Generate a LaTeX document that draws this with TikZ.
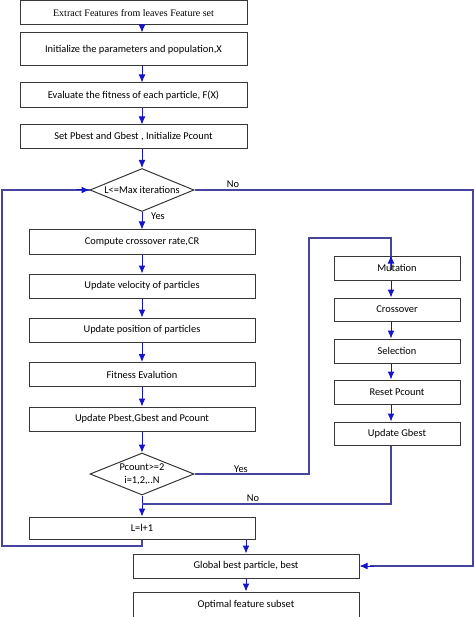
\documentclass[tikz,border=0pt]{standalone}
\usepackage{fontspec}
\setmainfont{Carlito}
\newfontfamily\serifbox{Liberation Serif}
\usetikzlibrary{arrows.meta,shapes.geometric}
\definecolor{headblue}{RGB}{20,20,205}
\definecolor{loopblue}{RGB}{70,70,160}
\definecolor{boxgray}{RGB}{55,55,55}

\begin{document}
\begin{tikzpicture}
[x=1pt,y=-1pt,>={Latex[length=8pt,width=7pt]},font=\fontsize{10.4}{12}\selectfont,
 stepbox/.style={rectangle,draw=boxgray,line width=1pt,text=black,inner sep=0pt},
 leftbox/.style={stepbox,minimum width=226pt,minimum height=24pt},
 rightbox/.style={stepbox,minimum width=126pt,minimum height=24pt},
 testbox/.style={diamond,draw=boxgray,line width=1pt,aspect=2.4,inner sep=0pt,
   minimum width=104pt,minimum height=43pt,align=center,text=black},
 flow/.style={->,draw=headblue,line width=1pt},
 loop/.style={draw=loopblue,line width=1.1pt},
 lbl/.style={text=black}]
\useasboundingbox (0,0) rectangle (474,617);
% start
\node[stepbox,minimum width=227pt,minimum height=24pt,font=\serifbox\fontsize{10}{12}\selectfont] (ex) at (133.5,13) {Extract Features from leaves Feature set};
\node[stepbox,minimum width=227pt,minimum height=33pt] (ini) at (133.5,49.5) {Initialize the parameters and population,X};
\node[stepbox,minimum width=227pt,minimum height=25pt] (ev) at (133.5,95.5) {Evaluate the fitness of each particle, F(X)};
\node[stepbox,minimum width=227pt,minimum height=24pt] (set) at (133.5,137) {Set Pbest and Gbest , Initialize Pcount};
\node[testbox] (it) at (142,190) {L<=Max iterations};
% pso part
\node[leftbox] (cr) at (142,242) {Compute crossover rate,CR};
\node[leftbox] (vel) at (142,286) {Update velocity of particles};
\node[leftbox] (pos) at (142,330) {Update position of particles};
\node[leftbox] (fit) at (142,374.5) {Fitness Evalution};
\node[leftbox] (upd) at (142,419) {Update Pbest,Gbest and Pcount};
\node[testbox,minimum height=42pt] (pc) at (142,474) {Pcount>=2\\[1pt]i=1,2,..N};
\node[leftbox,minimum height=22pt] (inc) at (142,528) {L=l+1};
% ga part
\node[rightbox] (mut) at (397,268) {Mutation};
\node[rightbox,minimum height=23pt] (cro) at (397,309.5) {Crossover};
\node[rightbox] (sel) at (397,351) {Selection};
\node[rightbox] (rst) at (397,392) {Reset Pcount};
\node[rightbox,minimum height=23pt] (ugb) at (397,433.5) {Update Gbest};
% end
\node[stepbox,minimum width=226pt,minimum height=24pt] (gb) at (246,566) {Global best particle, best};
\node[stepbox,minimum width=226pt,minimum height=25pt] (opt) at (246,604.5) {Optimal feature subset};

\coordinate (lpL) at (2,546);
\coordinate (noR) at (473,566);
\coordinate (yesT) at (309,238);
\coordinate (noB) at (142,504);
\coordinate (gx) at (391,0);

\draw[flow] (ex.south -| it.north) -- (ini.north -| it.north);
\draw[flow] (ini.south -| it.north) -- (ev.north -| it.north);
\draw[flow] (ev.south -| it.north) -- (set.north -| it.north);
\draw[flow] (set.south -| it.north) -- (it.north);
\draw[flow] (it.south) -- (cr.north);
\draw[flow] (cr) -- (vel);
\draw[flow] (vel) -- (pos);
\draw[flow] (pos) -- (fit);
\draw[flow] (fit) -- (upd);
\draw[flow] (upd) -- (pc);
\draw[flow] (pc) -- (inc);
\draw[flow] (mut.south -| gx) -- (cro.north -| gx);
\draw[flow] (cro.south -| gx) -- (sel.north -| gx);
\draw[flow] (sel.south -| gx) -- (rst.north -| gx);
\draw[flow] (rst.south -| gx) -- (ugb.north -| gx);
\draw[flow] (inc.south -| gb.north) -- (gb.north);
\draw[flow] (gb) -- (opt);

% loops
\draw[loop] (inc.south -| it.south) |- (lpL) |- (it.west);
\draw[flow] ([xshift=-14pt]it.west) -- (it.west);
\draw[loop] (it.east) -| (noR) -- ([xshift=10pt]gb.east);
\draw[flow] ([xshift=14pt]gb.east) -- (gb.east);
\draw[loop] (pc.east) -| (yesT) -| ([yshift=-12pt]mut.north -| gx);
\draw[flow] ([yshift=-14pt]mut.north -| gx) -- (mut.north -| gx);
\draw[loop] (ugb.south -| gx) |- (noB);

\node[lbl] at (233,184) {No};
\node[lbl] at (158,216) {Yes};
\node[lbl] at (241,469) {Yes};
\node[lbl] at (253,498) {No};
\end{tikzpicture}
\end{document}
